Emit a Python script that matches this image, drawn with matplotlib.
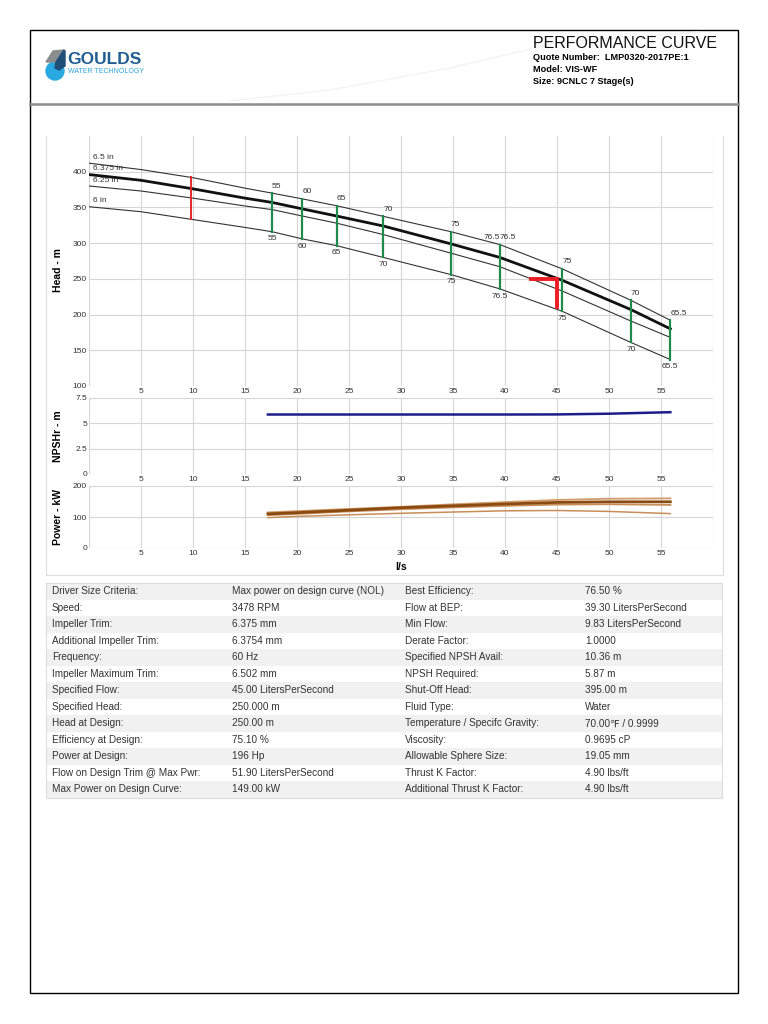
import numpy as np
import matplotlib.pyplot as plt
from matplotlib.patches import Rectangle, Polygon, Circle

W, H = 768, 1024

# head curves (l/s, m) for the four trims
flow = [0, 5, 10, 15, 17.6, 20.5, 23.8, 28.3, 34.8, 39.5, 45.5, 52.1, 55.9]
head_650 = [412, 403, 391.6, 377, 370, 362, 352.4, 337.5, 316, 298, 264, 220, 192]
head_6375 = [396, 388, 376, 363, 357, 348, 338, 324, 299, 280, 248, 207, 180]
head_625 = [380, 373, 363, 352, 347, 338, 328, 312, 286, 267, 233, 191, 168]
head_600 = [351, 344, 333, 322, 316, 306, 296.5, 280, 256, 236, 204.6, 161, 137]
trim_labels = ['6.5 in', '6.375 in', '6.25 in', '6 in']

# iso-efficiency lines
eff_flow = [17.6, 20.5, 23.8, 28.3, 34.8, 39.5, 45.5, 52.1, 55.9]
eff_labels = ['55', '60', '65', '70', '75', '76.5', '75', '70', '65.5']
extra_label_q = 37.9   # the doubled "76.5" label

min_flow = 9.83
design_q = [42.5, 45, 45]
design_h = [250, 250, 210]

# NPSHr
npsh_flow = [17.2, 20, 25, 30, 35, 40, 45, 50, 55.9]
npsh_req = [5.87, 5.87, 5.87, 5.87, 5.87, 5.87, 5.88, 5.95, 6.1]

# power (kW)
power_flow = [17.2, 20, 25, 30, 35, 40, 45, 50, 55.9]
power_650 = [115, 119, 126, 133, 141, 148, 155, 159, 160]
power_6375 = [110, 114, 122, 130, 136, 142, 147, 149, 149]
power_625 = [106, 110, 118, 125, 131, 136, 140, 141, 139]
power_600 = [98, 102, 107, 112, 116, 120, 121, 118, 111]

x_ticks = list(range(0, 61, 5))

# data table
left_names = ['Driver Size Criteria:', 'Speed:', 'Impeller Trim:', 'Additional Impeller Trim:',
              'Frequency:', 'Impeller Maximum Trim:', 'Specified Flow:', 'Specified Head:',
              'Head at Design:', 'Efficiency at Design:', 'Power at Design:',
              'Flow on Design Trim @ Max Pwr:', 'Max Power on Design Curve:']
left_values = ['Max power on design curve (NOL)', '3478 RPM', '6.375 mm', '6.3754 mm', '60 Hz',
               '6.502 mm', '45.00 LitersPerSecond', '250.000 m', '250.00 m', '75.10 %', '196 Hp',
               '51.90 LitersPerSecond', '149.00 kW']
right_names = ['Best Efficiency:', 'Flow at BEP:', 'Min Flow:', 'Derate Factor:',
               'Specified NPSH Avail:', 'NPSH Required:', 'Shut-Off Head:', 'Fluid Type:',
               'Temperature / Specifc Gravity:', 'Viscosity:', 'Allowable Sphere Size:',
               'Thrust K Factor:', 'Additional Thrust K Factor:']
right_values = ['76.50 %', '39.30 LitersPerSecond', '9.83 LitersPerSecond', '1.0000', '10.36 m',
                '5.87 m', '395.00 m', 'Water', '70.00\u2109 / 0.9999', '0.9695 cP', '19.05 mm',
                '4.90 lbs/ft', '4.90 lbs/ft']

FONT = ['Liberation Sans', 'DejaVu Sans']
plt.rcParams['font.family'] = FONT

fig = plt.figure(figsize=(W / 100, H / 100), dpi=100)

# page overlay in pixel coordinates
page = fig.add_axes([0, 0, 1, 1])
page.set_xlim(0, W)
page.set_ylim(H, 0)
page.axis('off')

page.add_patch(Rectangle((30, 30), 708, 963, fill=False, ec='black', lw=1))
page.plot([30, 738], [104, 104], color='#8c8c8c', lw=1.8)
# faint decorative swoosh
sx = np.array([230, 330, 450, 560, 700])
sy = np.array([101, 90, 68, 42, 32])
page.plot(sx, sy, color='#f3f3f3', lw=1.0)

# logo
page.add_patch(Circle((55, 71), 9, color='#29a9e1'))
page.add_patch(Polygon([(46, 62), (53, 51), (64, 50), (56, 62)], color='#8a8d8f'))
page.add_patch(Polygon([(56, 62), (64, 50), (65, 51), (65, 66), (59, 70), (55, 68)], color='#1f4e79'))
page.text(67, 59, 'GOULDS', fontsize=12.5, fontweight='bold', color='#215f93', va='center', ha='left')
page.text(68, 71.5, 'WATER TECHNOLOGY', fontsize=5, color='#2aa3dc', va='center', ha='left')

page.text(533, 44, 'PERFORMANCE CURVE', fontsize=11.5, color='#111', va='center', ha='left')
page.text(533, 58, 'Quote Number:  LMP0320-2017PE:1', fontsize=6.6, fontweight='bold', va='center', ha='left')
page.text(533, 70, 'Model: VIS-WF', fontsize=6.6, fontweight='bold', va='center', ha='left')
page.text(533, 82, 'Size: 9CNLC 7 Stage(s)', fontsize=6.6, fontweight='bold', va='center', ha='left')

# light frame round the chart block
page.plot([46, 46, 723, 723], [136, 575, 575, 136], color='#dddddd', lw=0.8)

page.text(58, 270, 'Head - m', rotation=90, fontsize=7.5, fontweight='bold', va='center', ha='center')
page.text(58, 436, 'NPSHr - m', rotation=90, fontsize=7.5, fontweight='bold', va='center', ha='center')
page.text(58, 517, 'Power - kW', rotation=90, fontsize=7.5, fontweight='bold', va='center', ha='center')
page.text(401, 567, 'l/s', fontsize=7.5, fontweight='bold', va='center', ha='center')

# table
row_h = 16.5
top = 583
for i in range(len(left_names)):
    y0 = top + i * row_h
    if i % 2 == 0:
        page.add_patch(Rectangle((46, y0), 676, row_h, color='#f1f1f1', lw=0))
    yc = y0 + row_h / 2
    page.text(52, yc, left_names[i], fontsize=7.2, color='#333', va='center')
    page.text(232, yc, left_values[i], fontsize=7.2, color='#333', va='center')
    page.text(405, yc, right_names[i], fontsize=7.2, color='#333', va='center')
    page.text(585, yc, right_values[i], fontsize=7.2, color='#333', va='center')
page.add_patch(Rectangle((46, top), 676, row_h * len(left_names), fill=False, ec='#dddddd', lw=0.8))


def px_axes(l, t, r, b):
    return fig.add_axes([l / W, 1 - b / H, (r - l) / W, (b - t) / H])


def style(ax, ylim, yticks, ylabels):
    ax.set_facecolor('none')
    ax.set_xlim(0, 60)
    ax.set_ylim(*ylim)
    for s in ax.spines.values():
        s.set_visible(False)
    ax.set_xticks(x_ticks)
    ax.set_xticklabels(['' if t in (0, 60) else str(t) for t in x_ticks])
    ax.set_yticks(yticks)
    ax.set_yticklabels(ylabels)
    ax.tick_params(length=0, labelsize=6, colors='#333', pad=1.5)
    ax.grid(True, color='#d6d6d6', lw=0.8)
    ax.set_axisbelow(True)


# head
ax = px_axes(89, 136, 713, 386)
style(ax, (100, 450), list(range(100, 401, 50)), [str(v) for v in range(100, 401, 50)])
ax.plot(flow, head_650, color='#333', lw=0.8)
ax.plot(flow, head_6375, color='#111', lw=2)
ax.plot(flow, head_625, color='#333', lw=0.8)
ax.plot(flow, head_600, color='#333', lw=0.8)
for lab, hh in zip(trim_labels, [head_650, head_6375, head_625, head_600]):
    ax.text(0.4, hh[0] + 8, lab, fontsize=6, color='#333', va='center', ha='left')

for q, lab in zip(eff_flow, eff_labels):
    h_top = np.interp(q, flow, head_650)
    h_bot = np.interp(q, flow, head_600)
    ax.plot([q, q], [h_bot, h_top], color='#1f8a4c', lw=1.6)
    ax.text(q, h_top + 10, lab, fontsize=6, color='#333', ha='left', va='center')
    ax.text(q, h_bot - 10, lab, fontsize=6, color='#333', ha='center', va='center')
ax.text(extra_label_q, np.interp(39.5, flow, head_650) + 10, '76.5', fontsize=6, color='#333',
        ha='left', va='center')

ax.plot([min_flow, min_flow], [np.interp(min_flow, flow, head_600), np.interp(min_flow, flow, head_650)],
        color='#e8262a', lw=1.4)
ax.plot(design_q, design_h, color='#ee1c25', lw=2.8, solid_joinstyle='miter')

# NPSHr
ax2 = px_axes(89, 398, 713, 474)
style(ax2, (0, 7.5), [0, 2.5, 5, 7.5], ['0', '2.5', '5', '7.5'])
ax2.plot(npsh_flow, npsh_req, color='#1c1c8a', lw=1.8)

# power
ax3 = px_axes(89, 486, 713, 548)
style(ax3, (0, 200), [0, 100, 200], ['0', '100', '200'])
ax3.plot(power_flow, power_650, color='#d19a68', lw=1.3)
ax3.plot(power_flow, power_625, color='#c98d58', lw=1.3)
ax3.plot(power_flow, power_600, color='#c98d58', lw=1.1)
ax3.plot(power_flow, power_6375, color='#8a4a12', lw=2.0)

fig.savefig('out.png', dpi=100)
